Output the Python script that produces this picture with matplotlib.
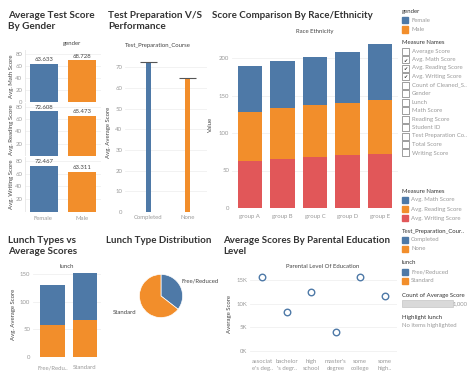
import matplotlib
matplotlib.use("Agg")
import matplotlib.pyplot as plt
import matplotlib.patches as mpatches
import numpy as np

plt.rcParams['font.family'] = ['Lato', 'DejaVu Sans']

W, H = 474, 378
BLUE = "#4e79a7"
ORANGE = "#f28e2b"
RED = "#e15759"
TICK = "#9a9a9a"
TEXT = "#444444"
TITLE = "#333333"

# === DATA ===
genders = ["Female", "Male"]
gender_math = [63.633, 68.728]
gender_reading = [72.608, 65.473]
gender_writing = [72.467, 63.311]

prep_groups = ["Completed", "None"]
prep_scores = [72.7, 65.0]

race_groups = ["group A", "group B", "group C", "group D", "group E"]
race_math = [61.6, 63.5, 64.5, 67.4, 73.8]
race_reading = [64.7, 67.4, 69.1, 70.0, 73.0]
race_writing = [62.7, 65.6, 67.8, 70.1, 71.4]

lunch_types = ["Free/Redu..", "Standard"]
lunch_none = [57, 67]
lunch_completed = [74, 84]

pie_labels = ["Free/Reduced", "Standard"]
pie_counts = [355, 645]

parent_edu = ["associat\ne's deg..", "bachelor\n's degr..", "high\nschool",
              "master's\ndegree", "some\ncollege", "some\nhigh.."]
parent_sum = [15560, 8310, 12390, 4010, 15700, 11600]

legend_measures = ["Average Score", "Avg. Math Score", "Avg. Reading Score",
                   "Avg. Writing Score", "Count of Cleaned_S..", "Gender", "Lunch",
                   "Math Score", "Reading Score", "Student ID",
                   "Test Preparation Co..", "Total Score", "Writing Score"]
legend_checked = [False, True, True, True, False, False, False,
                  False, False, False, False, False, False]


fig = plt.figure(figsize=(W / 100, H / 100), dpi=100)
fig.patch.set_facecolor("white")


def ax_px(x0, y0, x1, y1):
    return fig.add_axes([x0 / W, 1 - y1 / H, (x1 - x0) / W, (y1 - y0) / H])


def txt(x, y, s, size=4.5, color=TEXT, weight="normal", ha="left", va="center", **kw):
    fig.text(x / W, 1 - y / H, s, fontsize=size, color=color, weight=weight,
             ha=ha, va=va, **kw)


def style(ax, grid=True):
    for s in ax.spines.values():
        s.set_visible(False)
    ax.tick_params(length=0, labelsize=4.3, labelcolor=TICK, pad=2)
    if grid:
        ax.yaxis.grid(True, color="#f0f0f0", lw=0.6)
        ax.set_axisbelow(True)


def title(x, y, s, size=7.2):
    txt(x, y, s, size=size, color=TITLE, weight="bold", va="top", linespacing=1.3)


# === PANEL 1: gender ===
title(8, 11, "Average Test Score\nBy Gender")
txt(63, 43, "gender", size=4.3)
rows = [(gender_math, "Avg. Math Score", 50, 102, [0, 20, 40, 60, 80]),
        (gender_reading, "Avg. Reading Score", 103, 156, [20, 40, 60, 80]),
        (gender_writing, "Avg. Writing Score", 157, 212, [20, 40, 60, 80])]
for vals, lab, y0, y1, ticks in rows:
    ax = ax_px(25, y0, 101, y1)
    style(ax)
    x = np.arange(len(genders))
    ax.bar(x, vals, width=0.75, color=[BLUE, ORANGE])
    for xi, v in zip(x, vals):
        ax.text(xi, v + 2, f"{v:.3f}", ha="center", va="bottom", fontsize=4.3, color=TEXT)
    ax.set_ylim(0, 86)
    ax.set_xlim(-0.5, 1.5)
    ax.set_yticks(ticks)
    ax.set_xticks([])
    ax.set_ylabel(lab, fontsize=4.3, color=TEXT, labelpad=1)
    ax.axvline(-0.5, color="#e6e6e6", lw=0.6)
    ax.axhline(0, color="#e6e6e6", lw=0.6)
for i, g in enumerate(genders):
    txt(43 + i * 39, 218, g, size=4.3, color=TICK, ha="center")

# === PANEL 2: test preparation ===
title(108, 11, "Test Preparation V/S\nPerformance")
txt(158, 45, "Test_Preparation_Course", size=4.3, ha="center")
ax = ax_px(125, 52, 207, 212)
style(ax)
x = np.arange(len(prep_groups))
ax.bar(x, prep_scores, width=0.11, color=[BLUE, ORANGE])
ax.hlines(prep_scores, x - 0.22, x + 0.22, colors="#555555", lw=0.8)
ax.set_ylim(0, 77.5)
ax.set_xlim(-0.6, 1.5)
ax.set_yticks(range(0, 71, 10))
ax.set_xticks(x)
ax.set_xticklabels(prep_groups)
ax.set_ylabel("Avg. Average Score", fontsize=4.3, color=TEXT, labelpad=3)

# === PANEL 3: race ===
title(212, 11, "Score Comparison By Race/Ethnicity", size=7.0)
txt(315, 31, "Race Ethnicity", size=4.3, ha="center")
ax = ax_px(232, 40, 398, 208)
style(ax)
x = np.arange(len(race_groups))
ax.bar(x, race_writing, width=0.75, color=RED)
ax.bar(x, race_reading, width=0.75, color=ORANGE, bottom=race_writing)
ax.bar(x, race_math, width=0.75, color=BLUE,
       bottom=np.array(race_writing) + np.array(race_reading))
ax.set_ylim(0, 200 * 168 / 150)
ax.set_xlim(-0.55, 4.55)
ax.set_yticks([0, 50, 100, 150, 200])
ax.set_xticks(x)
ax.set_xticklabels(race_groups)
ax.tick_params(axis="x", pad=4)
ax.set_ylabel("Value", fontsize=4.3, color=TEXT, labelpad=4)

# === PANEL 4: lunch bars ===
title(8, 236, "Lunch Types vs\nAverage Scores")
txt(67, 266, "lunch", size=4.3, ha="center")
ax = ax_px(33, 272, 101, 357)
style(ax)
x = np.arange(len(lunch_types))
ax.bar(x, lunch_none, width=0.75, color=ORANGE)
ax.bar(x, lunch_completed, width=0.75, color=BLUE, bottom=lunch_none)
ax.set_ylim(0, 150 * 85 / 83)
ax.set_xlim(-0.6, 1.5)
ax.set_yticks([0, 50, 100, 150])
ax.set_xticks(x)
ax.set_xticklabels(lunch_types)
ax.tick_params(axis="x", pad=6)
ax.set_ylabel("Avg. Average Score", fontsize=4.3, color=TEXT, labelpad=3)

# === PANEL 5: pie ===
title(106, 236, "Lunch Type Distribution", size=7.0)
ax = ax_px(134, 269, 188, 323)
ax.pie(pie_counts, colors=[BLUE, ORANGE], startangle=90, counterclock=False,
       wedgeprops=dict(linewidth=0.5, edgecolor="white"))
ax.set_aspect("equal")
txt(181, 281, pie_labels[0], size=4.3)
txt(113, 312, pie_labels[1], size=4.3)

# === PANEL 6: scatter ===
title(223, 236, "Average Scores By Parental Education\nLevel", size=7.0)
txt(323, 266, "Parental Level Of Education", size=4.3, ha="center")
ax = ax_px(250, 272, 397, 356)
style(ax)
x = np.arange(len(parent_edu))
ax.scatter(x, parent_sum, s=22, facecolors="white", edgecolors=BLUE, linewidths=1.0)
ax.set_ylim(-1056, 16690)
ax.set_xlim(-0.5, 5.5)
ax.set_yticks([0, 5000, 10000, 15000])
ax.set_yticklabels(["0K", "5K", "10K", "15K"])
ax.set_xticks(x)
ax.set_xticklabels(parent_edu, linespacing=1.6)
ax.set_ylabel("Average Score", fontsize=4.3, color=TEXT, labelpad=3)

# === LEGENDS ===
LX = 402
txt(LX, 11, "gender", size=4.3, color=TITLE)
for i, (lab, c) in enumerate(zip(genders, [BLUE, ORANGE])):
    y = 20 + i * 9.5
    fig.patches.append(mpatches.Rectangle(((LX) / W, 1 - (y + 3) / H), 6 / W, 6 / H,
                                          color=c, transform=fig.transFigure))
    txt(LX + 9, y, lab, size=4.3, color=TICK)

txt(LX, 43, "Measure Names", size=4.3, color=TITLE)
for i, (lab, chk) in enumerate(zip(legend_measures, legend_checked)):
    y = 51 + i * 8.5
    fig.patches.append(mpatches.Rectangle((LX / W, 1 - (y + 3.5) / H), 7 / W, 7 / H,
                                          facecolor="white", edgecolor="#555555", lw=0.4,
                                          transform=fig.transFigure))
    if chk:
        txt(LX + 3.5, y + 0.5, "\u2714", size=3.5, color="#333333", ha="center",
            family="DejaVu Sans")
    txt(LX + 10, y, lab, size=4.3, color=TICK)


def swatch_group(y0, head, labels, colors):
    txt(LX, y0, head, size=4.3, color=TITLE)
    for i, (lab, c) in enumerate(zip(labels, colors)):
        y = y0 + 8.5 + i * 9.5
        fig.patches.append(mpatches.Rectangle((LX / W, 1 - (y + 3) / H), 6 / W, 6 / H,
                                              color=c, transform=fig.transFigure))
        txt(LX + 9, y, lab, size=4.3, color=TICK)


swatch_group(191, "Measure Names", ["Avg. Math Score", "Avg. Reading Score", "Avg. Writing Score"],
             [BLUE, ORANGE, RED])
swatch_group(231, "Test_Preparation_Cour..", prep_groups, [BLUE, ORANGE])
swatch_group(263, "lunch", ["Free/Reduced", "Standard"], [BLUE, ORANGE])

txt(LX, 295, "Count of Average Score", size=4.3, color=TITLE)
fig.patches.append(mpatches.Rectangle((LX / W, 1 - 307 / H), 51 / W, 7 / H,
                                      facecolor="#d9d9d9", edgecolor="#bbbbbb", lw=0.4,
                                      transform=fig.transFigure))
txt(453, 304, "1,000", size=4.3, color=TICK)
txt(LX, 317, "Highlight lunch", size=4.3, color=TITLE)
txt(LX, 326, "No items highlighted", size=4.3, color=TICK)

fig.savefig("out.png", dpi=100, facecolor="white")
